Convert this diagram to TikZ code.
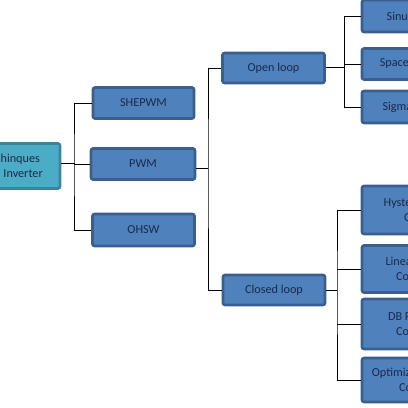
\documentclass[tikz,border=0pt]{standalone}
\usepackage{fontspec}
\setmainfont{Carlito}
\definecolor{boxfill}{HTML}{4F81BD}
\definecolor{boxline}{HTML}{3A5F8E}
\definecolor{rootfill}{HTML}{4BACC6}
\definecolor{rootline}{HTML}{3A8599}
\definecolor{txt}{HTML}{1A2A4A}
\begin{document}
\begin{tikzpicture}[x=1pt,y=-1pt,
  box/.style={draw=boxline,fill=boxfill,line width=2.6pt,rounded corners=2pt,
    text=txt,font=\fontsize{12.2}{14.5}\selectfont,align=center,inner sep=0pt},
  rootbox/.style={box,draw=rootline,fill=rootfill},
  link/.style={draw=black,line width=0.9pt}]
\useasboundingbox (0,0) rectangle (408,408);
\clip (0,0) rectangle (408,408);
% root
\node[rootbox,minimum width=126pt,minimum height=45pt] (root) at (-3,166) {PWM Techinques\\Multilevel Inverter};
% level 1
\node[box,minimum width=101pt,minimum height=31pt] (shep) at (143.5,103) {SHEPWM};
\node[box,minimum width=104pt,minimum height=31pt] (pwm) at (143,164) {PWM};
\node[box,minimum width=102pt,minimum height=32pt] (ohsw) at (143.5,230) {OHSW};
% level 2
\node[box,minimum width=102pt,minimum height=30pt] (open) at (273.5,68) {Open loop};
\node[box,minimum width=102pt,minimum height=30pt] (closed) at (274,290) {Closed loop};
% level 3 open
\node[box,minimum width=130pt,minimum height=32pt] (sin) at (427,16) {Sinusoidal PWM};
\node[box,minimum width=130pt,minimum height=31pt] (spa) at (427,64) {Space Vector PWM};
\node[box,minimum width=130pt,minimum height=32pt] (sig) at (427,107) {Sigma Delta PWM};
% level 3 closed
\node[box,minimum width=134pt,minimum height=48pt] (hys) at (429,210) {Hysteresis Current\\Controller};
\node[box,minimum width=118pt,minimum height=47pt] (lin) at (421,269) {Linear Current\\Controller};
\node[box,minimum width=118pt,minimum height=50pt] (db) at (421,324) {DB Predictive\\Controller};
\node[box,minimum width=124pt,minimum height=44pt] (opt) at (424,380) {Optimization Current\\Controller};
% junction coordinates
\coordinate (j1) at (74,163);
\coordinate (j2) at (208,168);
\coordinate (j3) at (344,67);
\coordinate (j4) at (337,290);
% connectors
\draw[link] (root.east |- j1) -- (j1);
\draw[link] (shep.west) -| (j1) |- (ohsw.west);
\draw[link] (j1) |- (pwm.west);
\draw[link] (pwm.east |- j2) -- (j2);
\draw[link] (open.west) -| (j2) |- (closed.west);
\draw[link] (open.east |- j3) -- (j3);
\draw[link] (j3 |- sin.west) coordinate (a) -- (sin.west);
\draw[link] (a) -- (j3 |- sig.west) -- (sig.west);
\draw[link] (j3) |- (spa.west);
\draw[link] (closed.east) -- (j4);
\draw[link] (hys.west) -| (j4) |- (opt.west);
\draw[link] (j4 |- lin.west) -- (lin.west);
\draw[link] (j4 |- db.west) -- (db.west);
\end{tikzpicture}
\end{document}
